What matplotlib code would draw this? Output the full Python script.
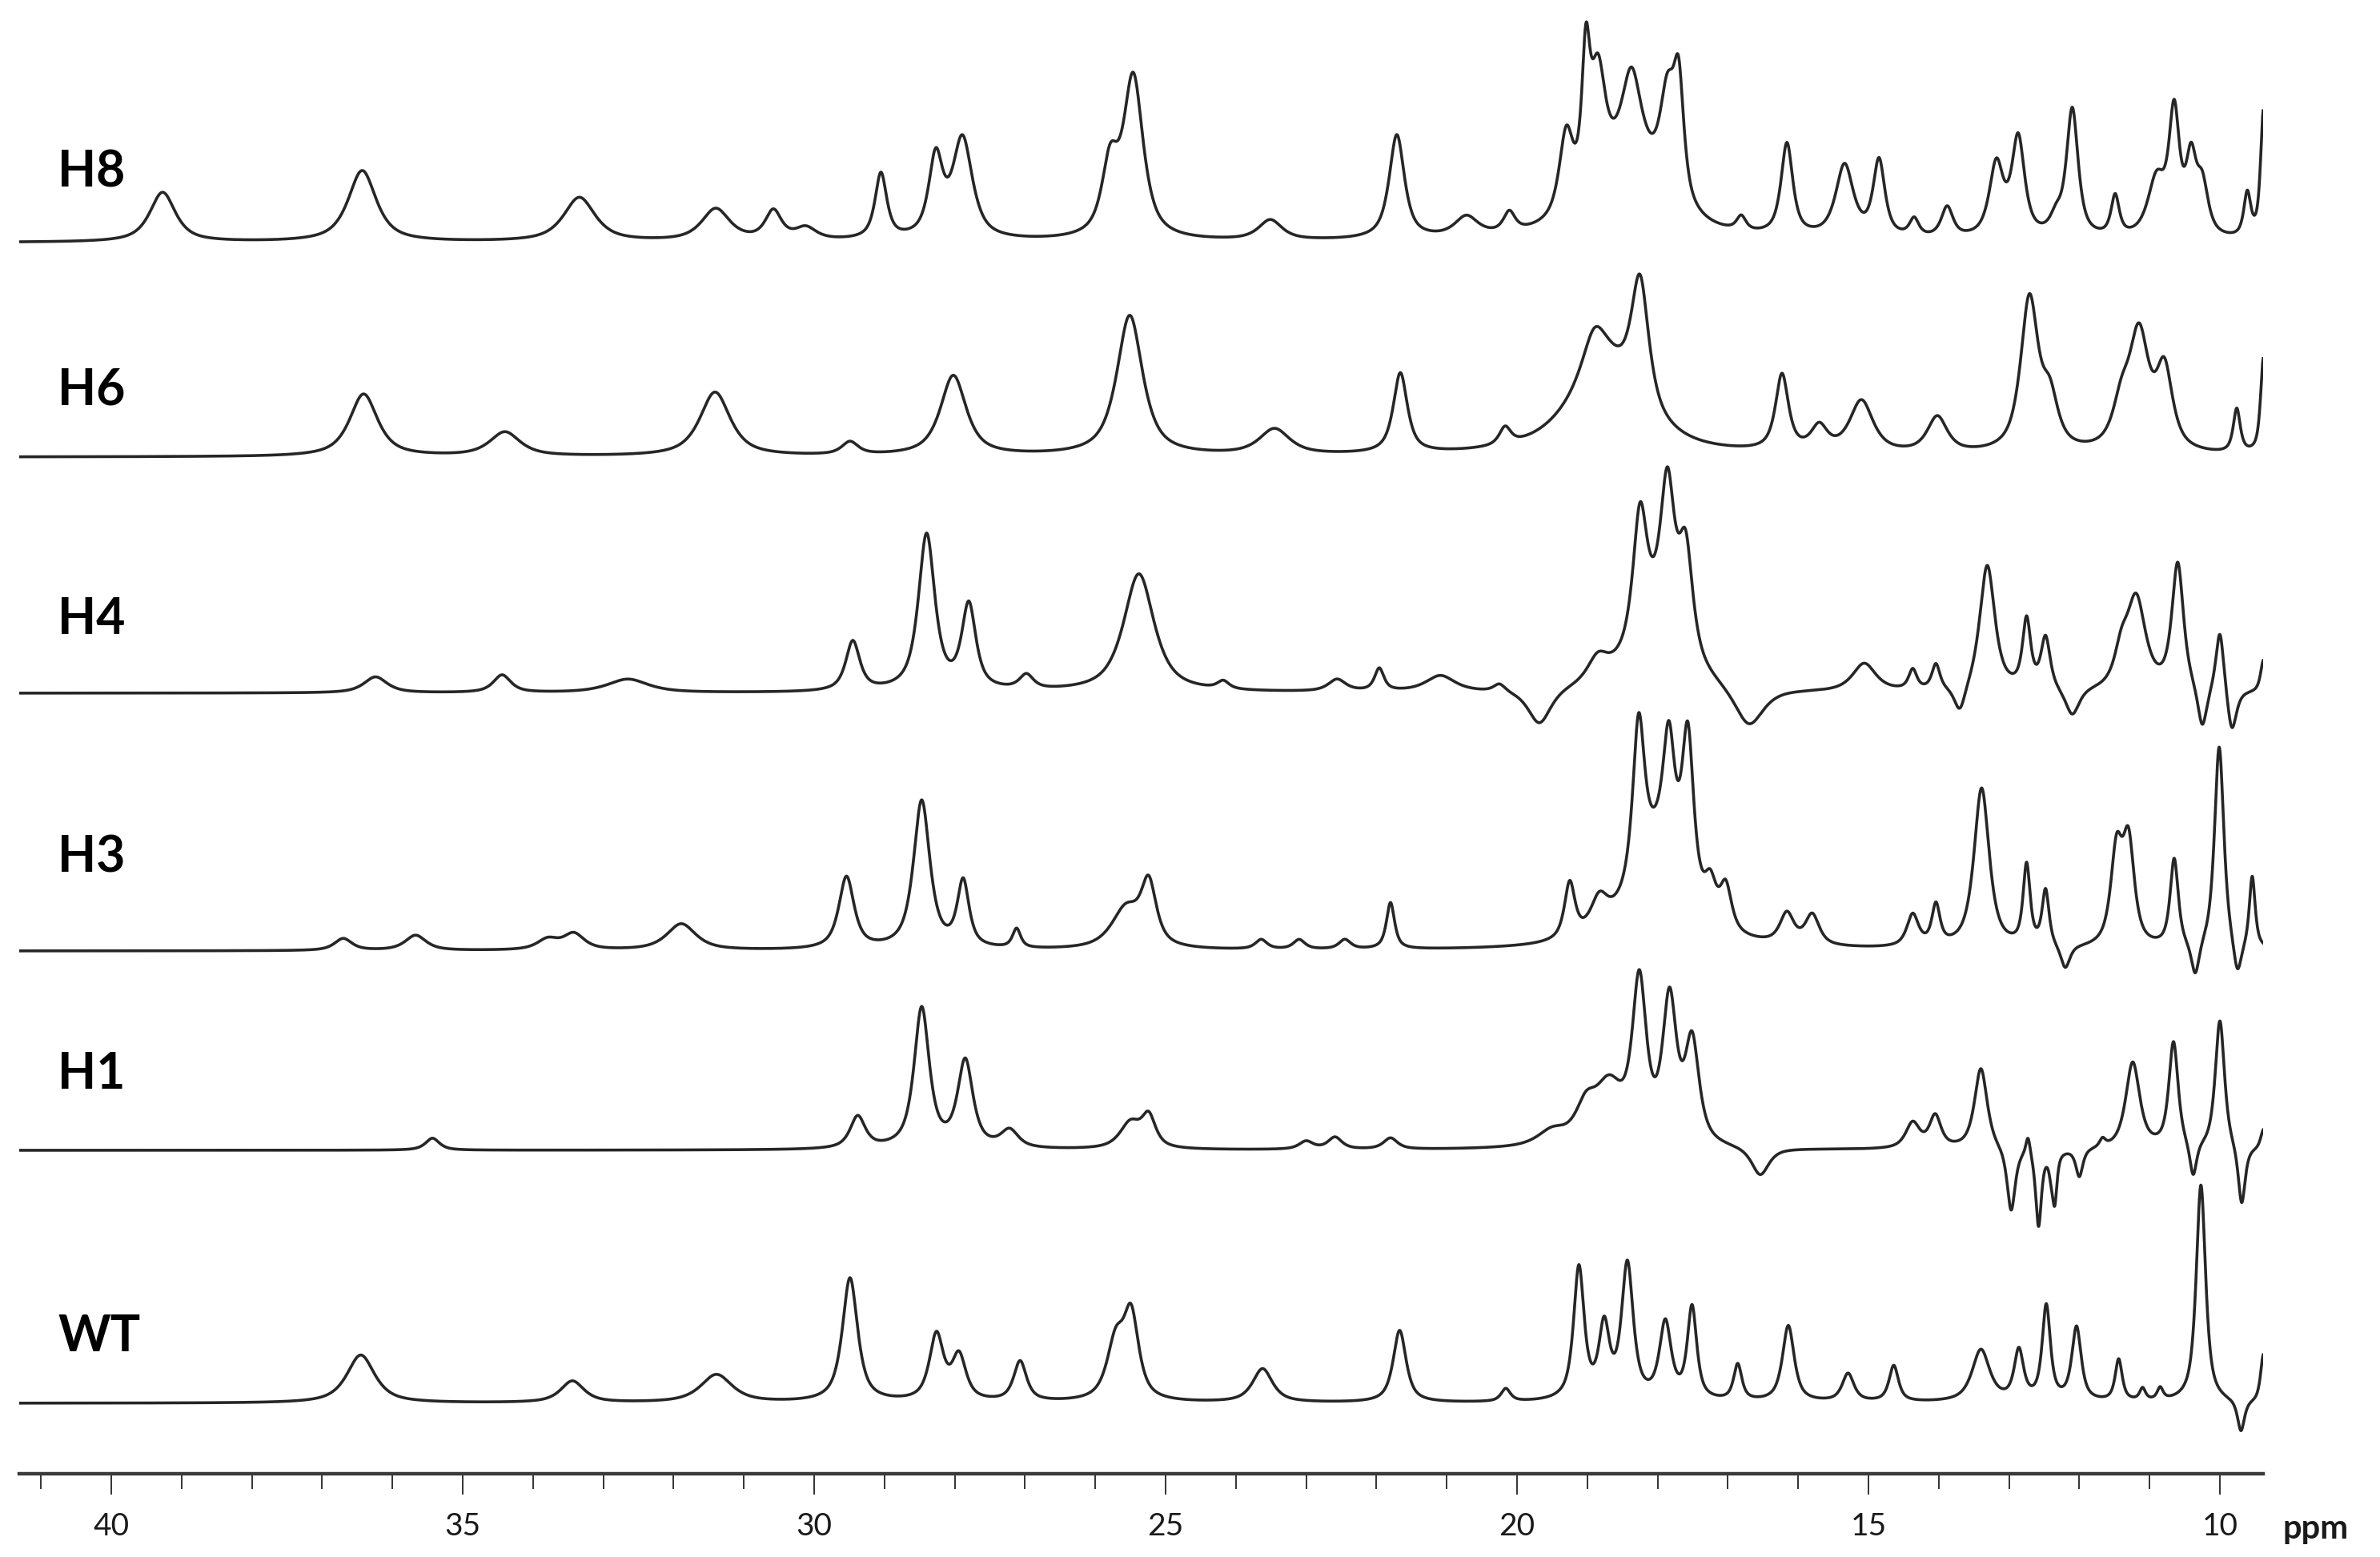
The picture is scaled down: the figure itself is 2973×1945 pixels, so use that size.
import numpy as np
import matplotlib
matplotlib.use("Agg")
import matplotlib.pyplot as plt
from matplotlib.ticker import MultipleLocator

# ---------------- data ----------------
labels = ["H8", "H6", "H4", "H3", "H1", "WT"]

# peak lists: position (ppm), height (arb. units), half width (ppm)
h8_ppm = [39.27, 36.43, 33.34, 31.40, 30.58, 30.12, 29.05, 28.27, 27.89, 25.79, 25.46,
          23.51, 21.71, 20.72, 20.11,
          18.40, 19.30, 19.02, 18.85, 18.37, 17.86, 17.70,
          16.81, 16.16, 15.34, 14.85, 14.35, 13.88, 13.18, 12.87, 12.33, 12.10, 11.49,
          10.90, 10.65, 10.41, 10.25, 9.61, 9.38]
h8_height = [62, 89, 55, 40, 36, 15, 82, 98, 125, 85, 200,
             25, 130, 25, 25,
             100, 100, 160, 140, 100, 120, 140,
             18, 115, 90, 95, 22, 38, 90, 122, 20, 160, 50,
             70, 148, 88, 60, 55, 160]
h8_width = [0.22, 0.24, 0.27, 0.24, 0.14, 0.18, 0.10, 0.12, 0.17, 0.14, 0.17,
            0.20, 0.13, 0.20, 0.10,
            0.55, 0.12, 0.07, 0.13, 0.16, 0.13, 0.09,
            0.08, 0.10, 0.15, 0.10, 0.08, 0.10, 0.12, 0.11, 0.10, 0.10, 0.07,
            0.15, 0.09, 0.09, 0.10, 0.06, 0.05]

h6_ppm = [36.41, 34.40, 31.41, 29.49, 28.02, 25.51, 23.45, 21.66, 20.17,
          18.75, 18.90, 18.25,
          16.23, 15.70, 15.10, 14.02, 12.71, 12.42, 11.40, 11.15, 10.79, 9.76, 9.38]
h6_height = [78, 30, 80, 16, 100, 175, 32, 100, 22,
             110, 50, 158,
             95, 30, 65, 45, 190, 60, 50, 142, 98, 55, 120]
h6_width = [0.24, 0.26, 0.26, 0.14, 0.22, 0.22, 0.26, 0.12, 0.10,
            0.60, 0.20, 0.15,
            0.11, 0.14, 0.20, 0.17, 0.15, 0.14, 0.15, 0.17, 0.14, 0.06, 0.05]

h4_ppm = [36.24, 34.44, 32.65, 29.45, 28.40, 27.80, 26.98, 25.38, 24.18, 22.56, 21.96,
          21.09, 20.25, 19.68,
          18.00, 18.85, 18.25, 17.86, 17.60,
          16.70, 15.06, 14.37, 14.04, 13.70, 13.31, 12.75, 12.48, 12.10, 11.40, 11.19,
          10.60, 10.25, 10.00, 9.83, 9.38]
h4_height = [20, 22, 17, 62, 195, 105, 18, 148, 10, 15, 28,
             20, 10, -45,
             80, 30, 160, 180, 130,
             -50, 35, 25, 32, -35, 158, 85, 65, -35, 40, 112,
             158, -55, 80, -55, 40]
h4_width = [0.20, 0.15, 0.35, 0.12, 0.14, 0.12, 0.12, 0.26, 0.10, 0.15, 0.08,
            0.25, 0.10, 0.20,
            0.45, 0.18, 0.12, 0.12, 0.12,
            0.25, 0.20, 0.07, 0.07, 0.10, 0.13, 0.07, 0.08, 0.12, 0.12, 0.16,
            0.10, 0.08, 0.07, 0.08, 0.05]

h3_ppm = [36.70, 35.67, 33.79, 33.42, 31.89, 29.54, 28.47, 27.88, 27.12, 25.56, 25.24,
          23.64, 23.10, 22.45, 21.80,
          18.00, 19.25, 18.83, 18.27, 17.84, 17.57, 17.25, 17.03,
          16.16, 15.80, 14.37, 14.04, 13.39, 12.75, 12.48, 12.20, 11.47, 11.30,
          10.65, 10.35, 10.01, 9.75, 9.54]
h3_height = [15, 19, 13, 20, 33, 90, 185, 82, 24, 50, 75,
             12, 12, 12, 58,
             120, 70, 40, 195, 150, 200, 45, 55,
             38, 38, 40, 50, 200, 100, 70, -30, 115, 125,
             110, -45, 255, -45, 90]
h3_width = [0.15, 0.18, 0.18, 0.18, 0.25, 0.13, 0.14, 0.10, 0.07, 0.25, 0.13,
            0.10, 0.10, 0.10, 0.07,
            0.45, 0.09, 0.15, 0.10, 0.10, 0.10, 0.10, 0.10,
            0.12, 0.12, 0.10, 0.07, 0.13, 0.06, 0.06, 0.08, 0.10, 0.10,
            0.07, 0.07, 0.08, 0.07, 0.05]

h1_ppm = [35.43, 29.38, 28.47, 27.85, 27.22, 25.50, 25.24, 23.00, 22.59, 21.80,
          19.50, 19.02, 18.69, 18.26, 17.83, 17.51,
          16.54, 14.37, 14.05, 13.40, 12.97, 12.73, 12.58, 12.40, 12.35, 12.00, 11.67,
          11.24, 10.66, 10.38, 10.00, 9.69, 9.38]
h1_height = [15, 40, 175, 108, 22, 32, 38, 10, 15, 14,
             18, 40, 70, 195, 175, 125,
             -35, 32, 40, 102, -80, 25, -95, -20, -60, -35, 10,
             108, 132, -45, 162, -75, 25]
h1_width = [0.12, 0.13, 0.13, 0.13, 0.15, 0.18, 0.12, 0.12, 0.12, 0.12,
            0.25, 0.18, 0.25, 0.12, 0.12, 0.12,
            0.15, 0.12, 0.10, 0.11, 0.07, 0.04, 0.05, 0.04, 0.04, 0.06, 0.05,
            0.12, 0.08, 0.06, 0.08, 0.06, 0.05]

wt_ppm = [36.45, 33.44, 31.39, 29.49, 28.26, 27.94, 27.07, 25.71, 25.49, 23.62, 21.67,
          20.16, 19.12, 18.76, 18.43, 17.89, 17.51, 16.86, 16.14, 15.29, 14.64, 13.40,
          12.86, 12.47, 12.04, 11.44, 11.10, 10.85, 10.27, 9.70, 9.38]
wt_height = [60, 27, 35, 155, 82, 55, 50, 70, 102, 42, 90,
             16, 165, 88, 168, 95, 115, 45, 95, 35, 45, 65,
             62, 118, 92, 52, 15, 15, 272, -40, 60]
wt_width = [0.24, 0.20, 0.27, 0.13, 0.12, 0.12, 0.11, 0.15, 0.13, 0.17, 0.11,
            0.08, 0.09, 0.09, 0.10, 0.10, 0.08, 0.07, 0.10, 0.10, 0.08, 0.15,
            0.08, 0.07, 0.08, 0.06, 0.05, 0.05, 0.08, 0.06, 0.05]

peaks = {
    "H8": (h8_ppm, h8_height, h8_width),
    "H6": (h6_ppm, h6_height, h6_width),
    "H4": (h4_ppm, h4_height, h4_width),
    "H3": (h3_ppm, h3_height, h3_width),
    "H1": (h1_ppm, h1_height, h1_width),
    "WT": (wt_ppm, wt_height, wt_width),
}

major_ticks = [40, 35, 30, 25, 20, 15, 10]

# ---------------- layout / style ----------------
W, H, DPI = 2973, 1945, 100
PPM_LEFT, PPM_RIGHT = 41.31, 9.385
AX_X0, AX_X1, AX_Y = 24, 2827, 1841          # pixel layout of the axis
offsets = {"H8": 1538, "H6": 1270, "H4": 975, "H3": 653, "H1": 404, "WT": 88}
label_y = {"H8": 1608, "H6": 1336, "H4": 1049, "H3": 751, "H1": 481, "WT": 153}
ETA = 0.8                                    # Lorentzian fraction of the line shape
LINE_COLOR = "#262626"


def line_shape(x, x0, w):
    u = (x - x0) / w
    return ETA / (1.0 + u * u) + (1 - ETA) * np.exp(-np.log(2) * u * u)


fig = plt.figure(figsize=(W / DPI, H / DPI), dpi=DPI)
ax = fig.add_axes([AX_X0 / W, (H - AX_Y) / H, (AX_X1 - AX_X0) / W, AX_Y / H])

x = np.linspace(PPM_LEFT, PPM_RIGHT, 8000)
for name in labels:
    p, h, w = peaks[name]
    y = np.zeros_like(x)
    for x0, hh, ww in zip(p, h, w):
        y += hh * line_shape(x, x0, ww)
    ax.plot(x, y + offsets[name], color=LINE_COLOR, lw=2.6, solid_joinstyle="round")
    ax.text(40.76, label_y[name], name, ha="left", va="baseline",
            fontsize=45, fontweight="bold", family=["Lato", "DejaVu Sans"], color="black")

ax.set_xlim(PPM_LEFT, PPM_RIGHT)
ax.set_ylim(0, AX_Y)
for s in ("left", "right", "top"):
    ax.spines[s].set_visible(False)
ax.spines["bottom"].set_linewidth(3.2)
ax.spines["bottom"].set_color("#3a3a3a")
ax.set_yticks([])
ax.xaxis.set_minor_locator(MultipleLocator(1))
ax.set_xticks(major_ticks)
ax.set_xticklabels([str(t) for t in major_ticks])
ax.tick_params(axis="x", which="major", direction="out", length=18.7, width=1.4,
               color="#333333", pad=16, labelsize=28, labelcolor="#1a1a1a")
ax.tick_params(axis="x", which="minor", direction="out", length=13.7, width=1.4,
               color="#333333")
for lab in ax.get_xticklabels():
    lab.set_family(["Lato", "DejaVu Sans"])
ax.patch.set_alpha(0)

fig.text(2851 / W, (H - 1922) / H, "ppm", ha="left", va="baseline", fontsize=30,
         fontweight="bold", family=["Lato", "DejaVu Sans"], color="#1a1a1a")

fig.savefig("out.png", dpi=DPI, facecolor="white")
